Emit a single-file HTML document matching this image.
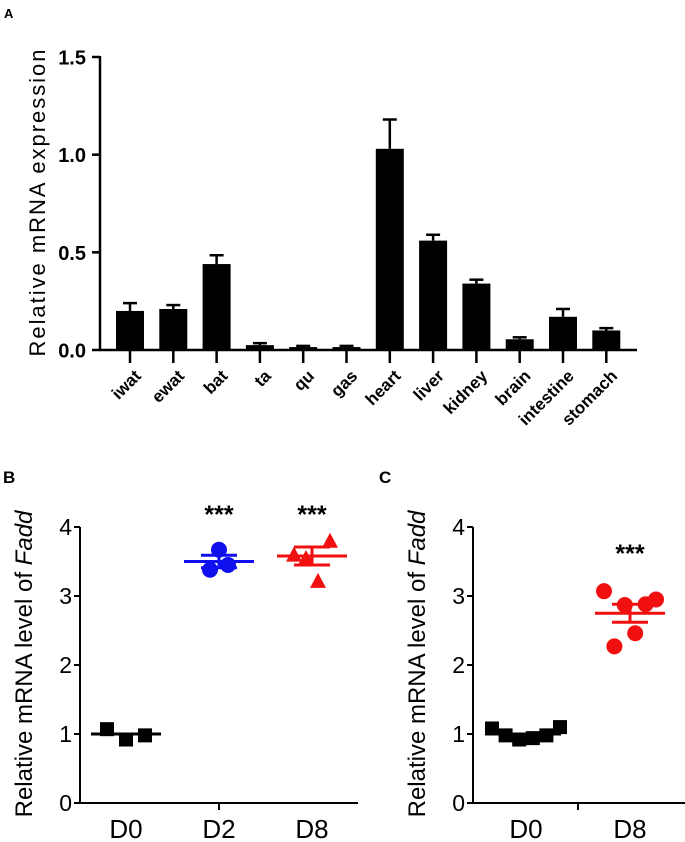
<!DOCTYPE html>
<html><head><meta charset="utf-8"><style>
html,body{margin:0;padding:0;background:#fff;}
svg{display:block;font-family:"Liberation Sans",Arial,sans-serif;}
</style></head><body>
<svg id="fig" width="685" height="842" viewBox="0 0 685 842">
<text x="4" y="18" font-size="13" font-weight="bold">A</text>
<text x="3" y="483" font-size="17" font-weight="bold">B</text>
<text x="379" y="483" font-size="17" font-weight="bold">C</text>
<g id="pa"></g>
<g id="pb"></g>
<g id="pc"></g>
</svg>
<script>
const catsA=["iwat","ewat","bat","ta","qu","gas","heart","liver","kidney","brain","intestine","stomach"];
const valsA=[0.20,0.21,0.44,0.025,0.015,0.015,1.03,0.56,0.34,0.055,0.17,0.10];
const errA=[0.04,0.02,0.045,0.01,0.006,0.006,0.15,0.03,0.02,0.01,0.04,0.012];
const ticksA=["0.0","0.5","1.0","1.5"];
const tickValsA=[0,0.5,1.0,1.5];

const groupsB=["D0","D2","D8"];
const ptsB=[[1.07,0.92,0.98],[3.38,3.67,3.45],[3.6,3.55,3.22,3.8]];
const meanB=[1.0,3.5,3.58];
const semB=[0.03,0.09,0.13];
const groupsC=["D0","D8"];
const ptsC=[[1.08,0.98,0.92,0.94,0.98,1.1],[3.07,2.27,2.87,2.46,2.88,2.95]];
const meanC=[1.0,2.75];
const semC=[0.03,0.13];
const ticksB=[0,1,2,3,4];

const NS="http://www.w3.org/2000/svg";
function mk(p,t,a){const e=document.createElementNS(NS,t);for(const k in a)e.setAttribute(k,a[k]);p.appendChild(e);return e;}

// Panel A
const pa=document.getElementById('pa');
const yA=v=>350-v*(293/1.5);
const xA=i=>130+i*43.3;
let e=mk(pa,'line',{x1:100,y1:56,x2:100,y2:351,stroke:'#000','stroke-width':2.5});

e=mk(pa,'line',{x1:99,y1:350,x2:637,y2:350,stroke:'#000','stroke-width':2.5});

tickValsA.forEach((v,i)=>{
 mk(pa,'line',{x1:92,y1:yA(v),x2:100,y2:yA(v),stroke:'#000','stroke-width':2.5});
 const t=mk(pa,'text',{x:86,y:yA(v)+7.5,'font-size':20,'font-weight':'bold','text-anchor':'end'});t.textContent=ticksA[i];
 
});
const ta=mk(pa,'text',{x:0,y:0,'font-size':22,'text-anchor':'middle',textLength:307,transform:'translate(45,203) rotate(-90)'});
ta.textContent='Relative mRNA expression';

catsA.forEach((c,i)=>{
 const x=xA(i),w=28;
 const top=yA(valsA[i]+errA[i]);
 mk(pa,'line',{x1:x,y1:yA(valsA[i]),x2:x,y2:top,stroke:'#000','stroke-width':2.5});
 mk(pa,'line',{x1:x-7,y1:top,x2:x+7,y2:top,stroke:'#000','stroke-width':2.5});
 const b=mk(pa,'rect',{x:x-w/2,y:yA(valsA[i]),width:w,height:350-yA(valsA[i]),fill:'#000'});
 
 mk(pa,'line',{x1:x,y1:350,x2:x,y2:363,stroke:'#000','stroke-width':2.5});
 const t=mk(pa,'text',{x:0,y:0,'font-size':17,'font-weight':'bold','text-anchor':'end',transform:`translate(${x+12},${377}) rotate(-45)`});
 t.textContent=c;
 
});

// Scatter panels
function panel(g,x0,x1,groups,xs,pts,means,sems,colors,shapes,stars,tickX,spreads){
 const y=v=>803-v*69;
 let a=mk(g,'line',{x1:x0,y1:y(4),x2:x0,y2:804,stroke:'#000','stroke-width':2});
 
 a=mk(g,'line',{x1:x0-1,y1:803,x2:x1,y2:803,stroke:'#000','stroke-width':2});
 
 ticksB.forEach(v=>{
  mk(g,'line',{x1:x0-6,y1:y(v),x2:x0,y2:y(v),stroke:'#000','stroke-width':2});
  const t=mk(g,'text',{x:x0-8,y:y(v)+8,'font-size':23,'text-anchor':'end'});t.textContent=v;
  
 });
 tickX.forEach(tx=>mk(g,'line',{x1:tx,y1:803,x2:tx,y2:810,stroke:'#000','stroke-width':2}));
 const tt=mk(g,'text',{x:0,y:0,'font-size':24,'text-anchor':'middle',transform:`translate(${x0-48},${664}) rotate(-90)`});
 tt.innerHTML='Relative mRNA level of <tspan font-style="italic">Fadd</tspan>';
 
 groups.forEach((gn,i)=>{
  const cx=xs[i],col=colors[i],n=pts[i].length;
  const l=mk(g,'text',{x:cx,y:838,'font-size':26,'text-anchor':'middle'});l.textContent=gn;
  
  const spread=spreads[i];
  pts[i].forEach((v,j)=>{
   const px=cx-spread/2+j*spread/(n-1),py=y(v);
   let m;
   if(shapes[i]==='sq')m=mk(g,'rect',{x:px-7,y:py-7,width:14,height:14,fill:col});
   else if(shapes[i]==='ci')m=mk(g,'circle',{cx:px,cy:py,r:8,fill:col});
   else m=mk(g,'polygon',{points:`${px},${py-8} ${px+8},${py+7} ${px-8},${py+7}`,fill:col});
   
  });
  const mm=mk(g,'line',{x1:cx-35,y1:y(means[i]),x2:cx+35,y2:y(means[i]),stroke:col,'stroke-width':3});
  
  if(sems[i]>0.035){
   mk(g,'line',{x1:cx,y1:y(means[i]-sems[i]),x2:cx,y2:y(means[i]+sems[i]),stroke:col,'stroke-width':3});
   mk(g,'line',{x1:cx-18,y1:y(means[i]-sems[i]),x2:cx+18,y2:y(means[i]-sems[i]),stroke:col,'stroke-width':3});
   mk(g,'line',{x1:cx-18,y1:y(means[i]+sems[i]),x2:cx+18,y2:y(means[i]+sems[i]),stroke:col,'stroke-width':3});
  }
  if(stars[i]){const s=mk(g,'text',{x:cx,y:y(stars[i])+10,'font-size':25,'font-weight':'bold','text-anchor':'middle'});s.textContent='***';
   }
 });
}
panel(document.getElementById('pb'),80,358,groupsB,[126,219,312],ptsB,meanB,semB,['#000','#1010ee','#f01010'],['sq','ci','tr'],[0,4.2,4.2],[219],[38,18,36]);
panel(document.getElementById('pc'),473,685,groupsC,[526,630],ptsC,meanC,semC,['#000','#f01010'],['sq','ci'],[0,3.64],[578],[68,52]);
</script>
</body></html>
